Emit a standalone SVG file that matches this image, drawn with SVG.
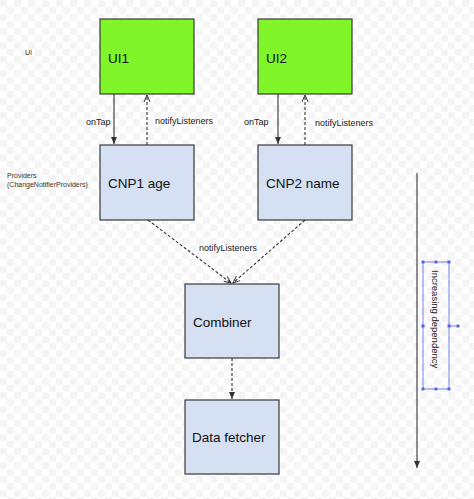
<svg xmlns="http://www.w3.org/2000/svg" width="474" height="499" viewBox="0 0 474 499">
<defs>
<pattern id="chk" width="14" height="14" patternUnits="userSpaceOnUse">
<rect width="14" height="14" fill="#ffffff"/>
<rect width="7" height="7" fill="#f5f5f5"/>
<rect x="7" y="7" width="7" height="7" fill="#f5f5f5"/>
</pattern>
<marker id="ah" markerWidth="8" markerHeight="8" refX="7" refY="4" orient="auto" markerUnits="userSpaceOnUse">
<path d="M0,1 L7,4 L0,7 Z" fill="#333"/>
</marker>
<marker id="ahOpen" markerWidth="8" markerHeight="8" refX="7" refY="4" orient="auto" markerUnits="userSpaceOnUse">
<path d="M0,1 L7,4 L0,7" fill="none" stroke="#333" stroke-width="1"/>
</marker>
<style>
.ui{fill:#80f52a;stroke:#3a3a3a;stroke-width:1.2}
.cnp{fill:#d5e0f2;stroke:#3a3a3a;stroke-width:1.2}
.big{font-family:"Liberation Sans",Arial,sans-serif;font-size:13.5px;fill:#111}
.lbl{font-family:"Liberation Sans",Arial,sans-serif;font-size:9px;fill:#222}
.sm{font-family:"Liberation Sans",Arial,sans-serif;font-size:7px;fill:#333}
.solid{stroke:#333;stroke-width:1.1;fill:none}
.dash{stroke:#333;stroke-width:1.1;fill:none;stroke-dasharray:3,2}
.sel{fill:none;stroke:#5566dd;stroke-width:0.8}
.h{fill:#5566dd}
</style>
</defs>
<rect width="474" height="499" fill="url(#chk)"/>

<text class="sm" x="25" y="55">UI</text>
<text class="sm" x="7" y="178">Providers</text>
<text class="sm" x="7" y="187">(ChangeNotifierProviders)</text>

<g id="UI1"><rect class="ui" x="100" y="19" width="94" height="75"/><text class="big" x="108" y="63">UI1</text></g>
<g id="UI2"><rect class="ui" x="258" y="19" width="94" height="75"/><text class="big" x="266" y="63">UI2</text></g>
<g id="CNP1"><rect class="cnp" x="100" y="145" width="94" height="75"/><text class="big" x="108" y="188">CNP1 age</text></g>
<g id="CNP2"><rect class="cnp" x="258" y="145" width="94" height="75"/><text class="big" x="266" y="188">CNP2 name</text></g>
<g id="Combiner"><rect class="cnp" x="185" y="284" width="94" height="74"/><text class="big" x="193" y="327">Combiner</text></g>
<g id="DataFetcher"><rect class="cnp" x="185" y="400" width="94" height="74"/><text class="big" x="192" y="442">Data fetcher</text></g>

<g id="connectors">
<line class="solid" x1="114" y1="94" x2="114" y2="144" marker-end="url(#ah)"/>
<line class="dash" x1="147" y1="145" x2="147" y2="95" marker-end="url(#ahOpen)"/>
<line class="solid" x1="278" y1="94" x2="278" y2="144" marker-end="url(#ah)"/>
<line class="dash" x1="305" y1="145" x2="305" y2="95" marker-end="url(#ahOpen)"/>
<line class="dash" x1="148" y1="220" x2="231" y2="283" marker-end="url(#ahOpen)"/>
<line class="dash" x1="305" y1="220" x2="233" y2="283" marker-end="url(#ahOpen)"/>
<line class="dash" x1="232" y1="358" x2="232" y2="399" marker-end="url(#ah)"/>
<line class="solid" x1="417" y1="173" x2="417" y2="468" marker-end="url(#ah)"/>
</g>

<text class="lbl" x="86" y="125">onTap</text>
<text class="lbl" x="155" y="124">notifyListeners</text>
<text class="lbl" x="244" y="125">onTap</text>
<text class="lbl" x="315" y="126">notifyListeners</text>
<text class="lbl" x="199" y="251">notifyListeners</text>

<g id="label-dependency">
<text class="lbl" font-size="9.5" transform="translate(432,270) rotate(90)" style="font-size:9.5px">Increasing dependency</text>
<rect class="sel" x="423" y="262" width="26" height="127"/>
<line class="sel" x1="449" y1="326" x2="458" y2="326"/>
<rect class="h" x="421.5" y="260.5" width="3" height="3"/>
<rect class="h" x="434.5" y="260.5" width="3" height="3"/>
<rect class="h" x="447.5" y="260.5" width="3" height="3"/>
<rect class="h" x="421.5" y="324.5" width="3" height="3"/>
<rect class="h" x="447.5" y="324.5" width="3" height="3"/>
<rect class="h" x="456.5" y="324.5" width="3" height="3"/>
<rect class="h" x="421.5" y="387.5" width="3" height="3"/>
<rect class="h" x="434.5" y="387.5" width="3" height="3"/>
<rect class="h" x="447.5" y="387.5" width="3" height="3"/>
</g>
</svg>
